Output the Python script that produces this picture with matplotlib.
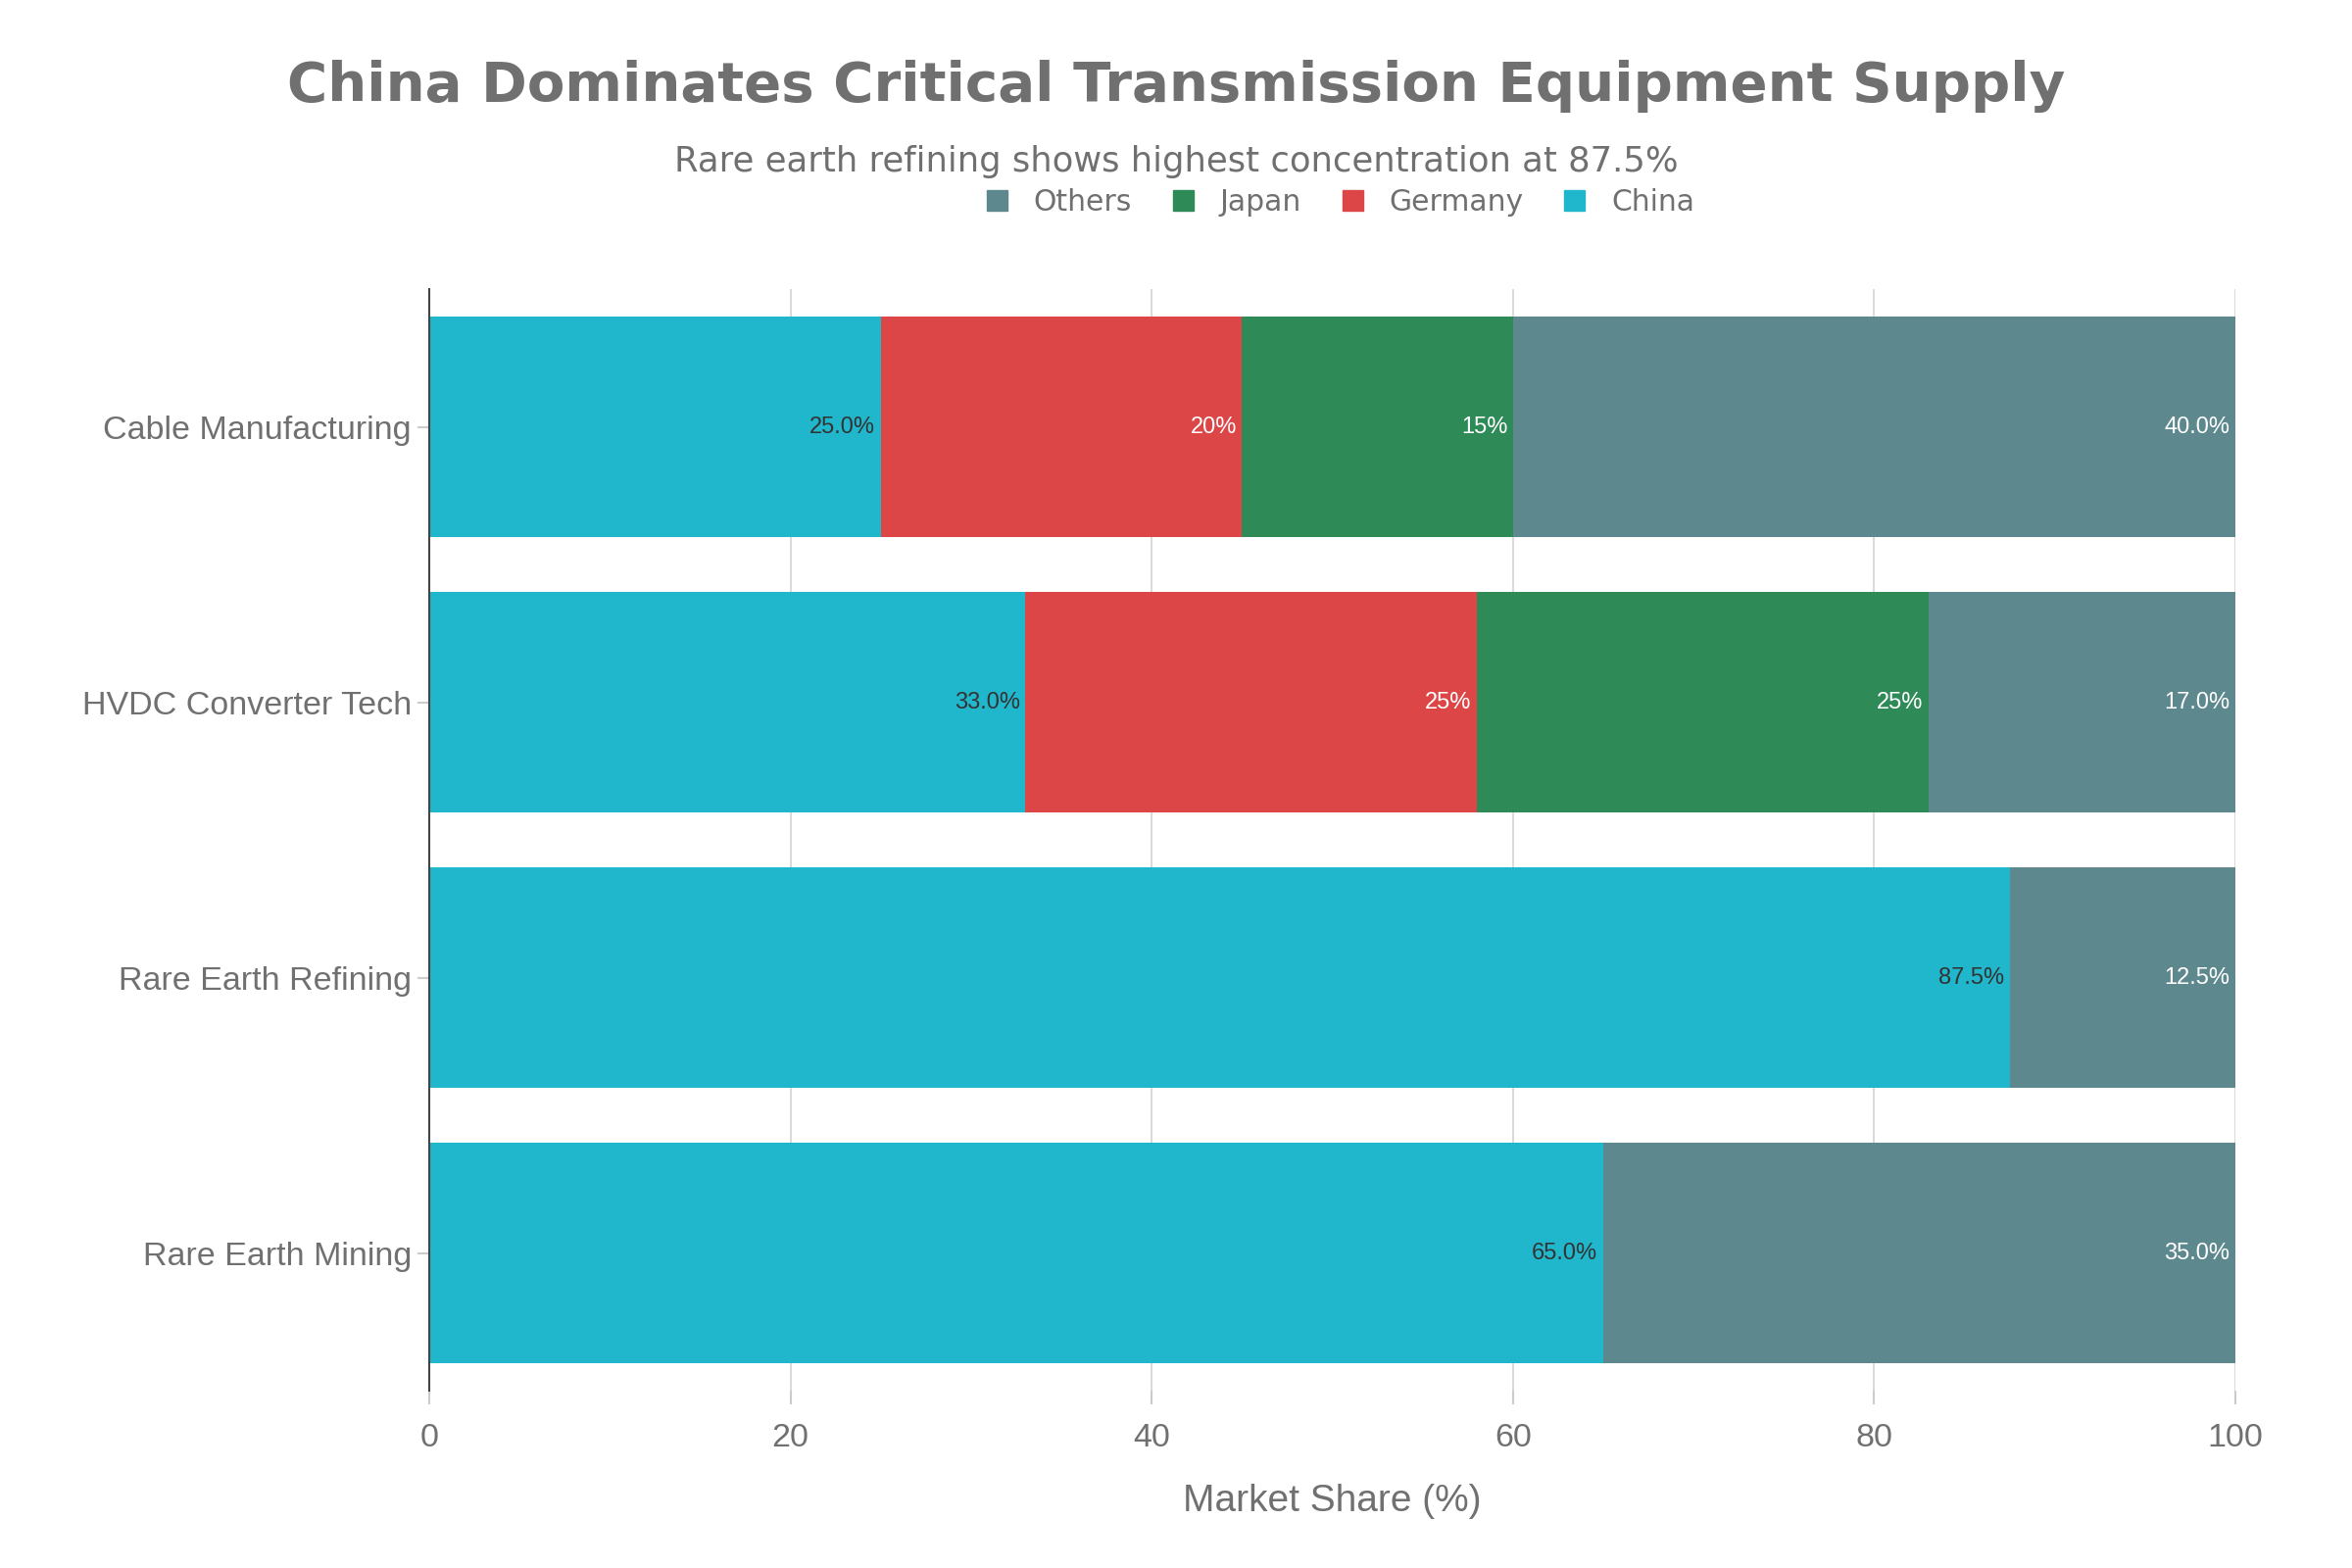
import matplotlib
matplotlib.use('Agg')
import matplotlib.pyplot as plt
from matplotlib.patches import Patch

# data, bottom to top
sectors = ['Rare Earth Mining', 'Rare Earth Refining', 'HVDC Converter Tech', 'Cable Manufacturing']
china = [65, 87.5, 33, 25]
germany = [0, 0, 25, 20]
japan = [0, 0, 25, 15]
others = [35, 12.5, 17, 40]

col_china = '#20B6CB'
col_germany = '#DC4647'
col_japan = '#2E8B57'
col_others = '#5D888D'
gray = '#707070'

fig = plt.figure(figsize=(24, 16), dpi=100)
ax = fig.add_axes([0.1825, 0.1131, 0.7679, 0.7025])

series = [('China', china, col_china, '%.1f%%', '#333333'),
          ('Germany', germany, col_germany, '%g%%', 'white'),
          ('Japan', japan, col_japan, '%g%%', 'white'),
          ('Others', others, col_others, '%.1f%%', 'white')]

y = list(range(len(sectors)))
left = [0] * len(sectors)
for name, vals, col, fmt, tcol in series:
    bars = ax.barh(y, vals, left=left, height=0.8, color=col, edgecolor='none', zorder=2)
    labels = [fmt % v if v > 0 else '' for v in vals]
    ax.bar_label(bars, labels=labels, label_type='edge', padding=-4,
                 fontsize=17, color=tcol, family='Liberation Sans')
    left = [a + b for a, b in zip(left, vals)]

# labels sit inside the bar end
for t in ax.texts:
    t.set_horizontalalignment('right')

ax.set_xlim(0, 100)
ax.set_ylim(-0.5, 3.5)
ax.set_yticks(y)
ax.set_yticklabels(sectors, family='Liberation Sans', fontsize=24.5, color=gray)
ax.set_xticks([0, 20, 40, 60, 80, 100])
ax.set_xticklabels(['0', '20', '40', '60', '80', '100'], family='Liberation Sans', fontsize=24.5, color=gray)
ax.tick_params(axis='y', length=9, width=1.5, color='#cccccc', pad=4)
ax.tick_params(axis='x', length=10, width=1.5, color='#cccccc', pad=14)
ax.grid(axis='x', color='#d9d9d9', linewidth=1.4, zorder=0)
ax.set_axisbelow(True)
for s in ['top', 'right', 'bottom']:
    ax.spines[s].set_visible(False)
ax.spines['left'].set_color('#444444')
ax.spines['left'].set_linewidth(1.5)
ax.set_xlabel('Market Share (%)', family='Liberation Sans', fontsize=28, color=gray, labelpad=22)

fig.text(0.5, 0.945, 'China Dominates Critical Transmission Equipment Supply',
         ha='center', va='center', fontsize=40.5, fontweight='heavy', color=gray, family='DejaVu Sans')
fig.text(0.5, 0.897, 'Rare earth refining shows highest concentration at 87.5%',
         ha='center', va='center', fontsize=25.5, color=gray, family='DejaVu Sans')

handles = [Patch(color=col_others, label='Others'), Patch(color=col_japan, label='Japan'),
           Patch(color=col_germany, label='Germany'), Patch(color=col_china, label='China')]
fig.legend(handles=handles, loc='center', bbox_to_anchor=(0.57, 0.871), ncol=4, frameon=False,
           prop={'family': 'DejaVu Sans', 'size': 21.5}, labelcolor=gray, handlelength=0.7,
           handleheight=0.7, handletextpad=0.9, columnspacing=1.4)

fig.savefig('out.png', dpi=100, facecolor='white')
